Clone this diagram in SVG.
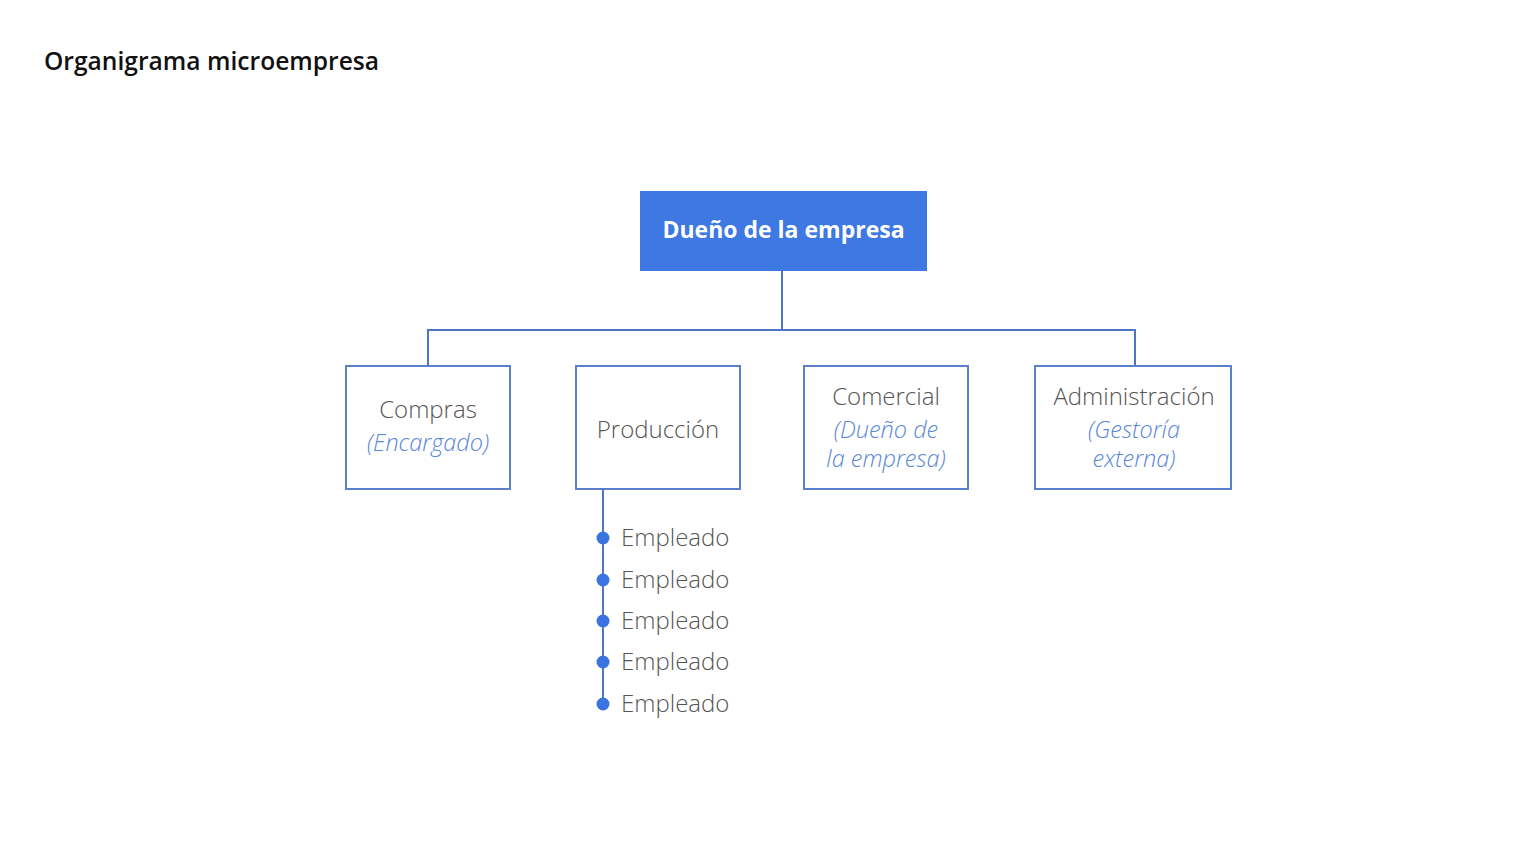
<svg xmlns="http://www.w3.org/2000/svg" width="1536" height="863" viewBox="0 0 1536 863">
<style>
.t{font-family:"Open Sans","Noto Sans",sans-serif}
.title{font-size:24.6px;font-weight:600;fill:#111}
.box{fill:#fff;stroke:#5b7fcb;stroke-width:2}
.lbl{font-size:24px;font-weight:300;fill:#555;text-anchor:middle}
.sub{font-size:23.5px;font-weight:300;font-style:italic;fill:#5a87d8;text-anchor:middle}
.emp{font-size:24px;font-weight:300;fill:#555}
.ln{stroke:#4f76c6;stroke-width:2;fill:none}
.dot{fill:#3b74e0}
</style>
<rect width="1536" height="863" fill="#fff"/>
<text class="t title" x="44" y="70">Organigrama microempresa</text>
<g id="connectors">
<path class="ln" d="M782 271V330M428 366V330H1135V366"/>
<path class="ln" d="M603 489V705" stroke="#3b74e0"/>
</g>
<g id="owner">
<rect x="640" y="191" width="287" height="80" fill="#3d78e3"/>
<text class="t" x="783.5" y="238" font-size="23" font-weight="700" fill="#fff" text-anchor="middle">Dueño de la empresa</text>
</g>
<g id="compras">
<rect class="box" x="346" y="366" width="164" height="123"/>
<text class="t lbl" x="428" y="418">Compras</text>
<text class="t sub" x="428" y="451">(Encargado)</text>
</g>
<g id="produccion">
<rect class="box" x="576" y="366" width="164" height="123"/>
<text class="t lbl" x="658" y="438">Producción</text>
</g>
<g id="comercial">
<rect class="box" x="804" y="366" width="164" height="123"/>
<text class="t lbl" x="886" y="405">Comercial</text>
<text class="t sub" x="886" y="438">(Dueño de</text>
<text class="t sub" x="886" y="467">la empresa)</text>
</g>
<g id="administracion">
<rect class="box" x="1035" y="366" width="196" height="123"/>
<text class="t lbl" x="1134" y="405">Administración</text>
<text class="t sub" x="1134" y="438">(Gestoría</text>
<text class="t sub" x="1134" y="467">externa)</text>
</g>
<g id="empleados">
<circle class="dot" cx="603" cy="538" r="6.5"/>
<circle class="dot" cx="603" cy="580" r="6.5"/>
<circle class="dot" cx="603" cy="621" r="6.5"/>
<circle class="dot" cx="603" cy="662" r="6.5"/>
<circle class="dot" cx="603" cy="704" r="6.5"/>
<text class="t emp" x="621" y="546">Empleado</text>
<text class="t emp" x="621" y="588">Empleado</text>
<text class="t emp" x="621" y="629">Empleado</text>
<text class="t emp" x="621" y="670">Empleado</text>
<text class="t emp" x="621" y="712">Empleado</text>
</g>
</svg>
